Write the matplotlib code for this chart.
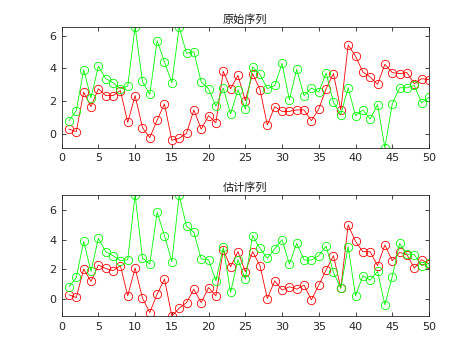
import matplotlib
matplotlib.use("Agg")
import matplotlib.pyplot as plt
import numpy as np

x = np.arange(1, 51)

orig_red = [0.27, 0.12, 2.54, 1.65, 2.75, 2.33, 2.33, 2.64, 0.68, 2.33,
            0.37, -0.25, 0.83, 1.82, -0.41, -0.29, 0.02, 1.45, 0.27, 1.10,
            0.66, 3.82, 2.75, 3.57, 2.02, 3.68, 2.70, 0.52, 1.65, 1.36,
            1.36, 1.45, 1.45, 0.79, 1.51, 2.75, 3.68, 1.45, 5.43, 4.75,
            3.78, 3.47, 3.02, 4.25, 3.74, 3.68, 3.74, 3.06, 3.37, 3.30]
orig_green = [0.79, 1.41, 3.92, 2.19, 4.13, 3.37, 3.12, 2.75, 2.91, 6.56,
              3.20, 2.40, 5.70, 4.40, 3.12, 6.52, 4.92, 5.02, 3.16, 2.75,
              1.67, 2.79, 1.20, 2.69, 1.51, 4.09, 3.63, 2.75, 2.95, 4.30,
              2.07, 3.94, 2.33, 2.79, 2.54, 3.72, 1.92, 1.16, 2.81, 1.10,
              1.45, 0.89, 1.78, -0.87, 1.82, 2.81, 2.81, 2.95, 1.88, 2.23]

est_red = [0.29, 0.11, 2.02, 1.19, 2.29, 2.06, 1.91, 2.25, 0.22, 2.09,
           0.07, -0.90, 0.34, 1.35, -1.13, -0.61, -0.23, 0.67, -0.23, 0.78,
           0.22, 3.30, 2.18, 3.19, 1.84, 3.19, 2.25, 0.04, 1.23, 0.61,
           0.83, 0.67, 0.94, -0.05, 0.94, 1.96, 2.92, 0.74, 4.99, 3.88,
           3.19, 3.19, 2.25, 3.64, 2.58, 3.14, 2.99, 2.09, 2.65, 2.36]
est_green = [0.83, 1.46, 3.88, 1.86, 4.09, 3.19, 2.92, 2.58, 2.65, 7.01,
             2.76, 2.36, 5.84, 4.27, 2.52, 6.97, 4.90, 4.49, 2.70, 2.65,
             1.23, 3.48, 0.45, 2.65, 1.35, 4.27, 3.41, 2.74, 3.37, 4.00,
             2.36, 3.75, 2.63, 2.63, 2.92, 3.57, 1.80, 0.74, 3.53, 0.22,
             1.57, 1.28, 1.86, -0.38, 1.52, 3.75, 3.03, 2.99, 2.25, 2.40]

titles = ["原始序列", "估计序列"]
xticks = [0, 5, 10, 15, 20, 25, 30, 35, 40, 45, 50]
yticks = [0, 2, 4, 6]

plt.rcParams['font.family'] = ['DejaVu Sans']
fig = plt.figure(figsize=(4.74, 3.55), dpi=100)
positions = [[0.13, 0.5838, 0.775, 0.3412], [0.13, 0.11, 0.775, 0.3412]]
data = [(orig_red, orig_green), (est_red, est_green)]

axcol = (0.15, 0.15, 0.15)
for pos, (r, g), t in zip(positions, data, titles):
    ax = fig.add_axes(pos)
    ax.plot(x, r, '-o', color=(1, 0, 0), mfc='none', ms=6, lw=0.6, mew=0.6)
    ax.plot(x, g, '-o', color=(0, 1, 0), mfc='none', ms=6, lw=0.6, mew=0.6)
    lo = min(min(r), min(g))
    hi = max(max(r), max(g))
    ax.set_xlim(0, 50)
    ax.set_ylim(lo, hi)
    ax.set_xticks(xticks)
    ax.set_yticks(yticks)
    ax.tick_params(direction='in', length=3, width=0.6, top=True, right=True,
                   labelsize=8, colors=axcol, pad=4)
    for s in ax.spines.values():
        s.set_linewidth(0.6)
        s.set_color(axcol)
    ax.set_title(t, fontsize=8, family=['Noto Sans CJK SC', 'DejaVu Sans'],
                 color=(0.1, 0.1, 0.1), pad=3)

fig.savefig("out.png", dpi=100, facecolor='white')
